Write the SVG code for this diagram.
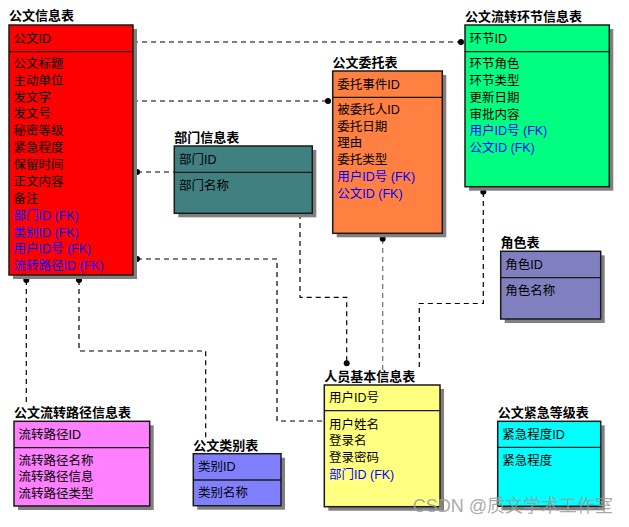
<svg xmlns="http://www.w3.org/2000/svg" width="629" height="527" viewBox="0 0 629 527">
<style>
text{font-family:"Liberation Sans","Noto Sans CJK SC",sans-serif;font-size:12.5px;fill:#000}
.t{font-weight:bold;font-size:13px}
.fk{fill:#0000ff}
.sh{fill:#808080}
.bx{stroke:#1a1a1a;stroke-width:1.5}
.dv{stroke:#1a1a1a;stroke-width:1.3}
.c{fill:none;stroke:#000;stroke-width:1.2;stroke-dasharray:5 4}
.cg{stroke:#6e6e6e}
.dot{fill:#000}
.wm{font-family:"Liberation Sans","Noto Sans CJK SC",sans-serif;font-size:18px;fill:#9a9a9a;fill-opacity:0.85}
</style>
<rect width="629" height="527" fill="#fff"/>

<g id="connectors">
<path class="c" d="M133,42 H461"/><circle class="dot" cx="461" cy="42" r="3"/>
<path class="c" d="M133,101 H328"/><circle class="dot" cx="328" cy="101" r="3"/>
<path class="c" d="M137,172 H174"/><circle class="dot" cx="137" cy="172" r="3"/>
<path class="c" d="M137,259 H277 V421 H324"/><circle class="dot" cx="137" cy="259" r="3"/>
<path class="c" d="M26.3,280 V405"/><circle class="dot" cx="26.3" cy="280" r="3"/>
<path class="c" d="M79,280 V351 H205.7 V438"/><circle class="dot" cx="79" cy="280" r="3"/>
<path class="c" d="M300,214 V297.3 H346.7 V363"/><circle class="dot" cx="346.7" cy="363.3" r="3"/>
<path class="c cg" d="M382.7,239 V370"/><circle class="dot" cx="382.7" cy="238.7" r="3"/>
<path class="c" d="M483.3,192 V303.5 H419.3 V370"/><circle class="dot" cx="483.3" cy="191.7" r="3"/>
</g>

<g id="doc">
<text class="t" x="9" y="20">公文信息表</text>
<rect class="sh" x="13" y="29" width="124" height="250"/>
<rect class="bx" x="9" y="25" width="124" height="250" fill="#ff0000"/>
<line class="dv" x1="9" y1="51.7" x2="133" y2="51.7"/>
<text x="13.5" y="42.5">公文ID</text>
<text x="13.5" y="67.8">公文标题<tspan x="13.5" dy="16.87">主动单位</tspan><tspan x="13.5" dy="16.87">发文字</tspan><tspan x="13.5" dy="16.87">发文号</tspan><tspan x="13.5" dy="16.87">秘密等级</tspan><tspan x="13.5" dy="16.87">紧急程度</tspan><tspan x="13.5" dy="16.87">保留时间</tspan><tspan x="13.5" dy="16.87">正文内容</tspan><tspan x="13.5" dy="16.87">备注</tspan><tspan class="fk" x="13.5" dy="16.87">部门ID (FK)</tspan><tspan class="fk" x="13.5" dy="16.87">类别ID (FK)</tspan><tspan class="fk" x="13.5" dy="16.87">用户ID号 (FK)</tspan><tspan class="fk" x="13.5" dy="16.87">流转路径ID (FK)</tspan></text>
</g>

<g id="flownode">
<text class="t" x="465" y="20.5">公文流转环节信息表</text>
<rect class="sh" x="469" y="29" width="144.3" height="161.7"/>
<rect class="bx" x="465" y="25" width="144.3" height="161.7" fill="#00ff80"/>
<line class="dv" x1="465" y1="51.7" x2="609.3" y2="51.7"/>
<text x="469.5" y="42.8">环节ID</text>
<text x="469.5" y="67.8">环节角色<tspan x="469.5" dy="16.9">环节类型</tspan><tspan x="469.5" dy="16.9">更新日期</tspan><tspan x="469.5" dy="16.9">审批内容</tspan><tspan class="fk" x="469.5" dy="16.9">用户ID号 (FK)</tspan><tspan class="fk" x="469.5" dy="16.9">公文ID (FK)</tspan></text>
</g>

<g id="entrust">
<text class="t" x="332.5" y="67">公文委托表</text>
<rect class="sh" x="336.7" y="75" width="109.6" height="162.3"/>
<rect class="bx" x="332.7" y="71" width="109.6" height="162.3" fill="#ff8040"/>
<line class="dv" x1="332.7" y1="97.3" x2="442.3" y2="97.3"/>
<text x="337.3" y="88.5">委托事件ID</text>
<text x="337.3" y="113.8">被委托人ID<tspan x="337.3" dy="16.8">委托日期</tspan><tspan x="337.3" dy="16.8">理由</tspan><tspan x="337.3" dy="16.8">委托类型</tspan><tspan class="fk" x="337.3" dy="16.8">用户ID号 (FK)</tspan><tspan class="fk" x="337.3" dy="16.8">公文ID (FK)</tspan></text>
</g>

<g id="dept">
<text class="t" x="174.3" y="142">部门信息表</text>
<rect class="sh" x="178.3" y="150" width="138" height="67.3"/>
<rect class="bx" x="174.3" y="146" width="138" height="67.3" fill="#408080"/>
<line class="dv" x1="174.3" y1="172.3" x2="312.3" y2="172.3"/>
<text x="179" y="163.8">部门ID</text>
<text x="179" y="189.5">部门名称</text>
</g>

<g id="role">
<text class="t" x="500.5" y="247">角色表</text>
<rect class="sh" x="504.7" y="255.3" width="100" height="67.7"/>
<rect class="bx" x="500.7" y="251.3" width="100" height="67.7" fill="#8080c0"/>
<line class="dv" x1="500.7" y1="277.7" x2="600.7" y2="277.7"/>
<text x="505.3" y="268.8">角色ID</text>
<text x="505.3" y="294.5">角色名称</text>
</g>

<g id="user">
<text class="t" x="324.3" y="381">人员基本信息表</text>
<rect class="sh" x="328.3" y="389" width="115.7" height="121.7"/>
<rect class="bx" x="324.3" y="385" width="115.7" height="121.7" fill="#ffff80"/>
<line class="dv" x1="324.3" y1="410.7" x2="440" y2="410.7"/>
<text x="329" y="402.2">用户ID号</text>
<text x="329" y="428.5">用户姓名<tspan x="329" dy="16.7">登录名</tspan><tspan x="329" dy="16.7">登录密码</tspan><tspan class="fk" x="329" dy="16.7">部门ID (FK)</tspan></text>
</g>

<g id="urgency">
<text class="t" x="497.7" y="417">公文紧急等级表</text>
<rect class="sh" x="501.7" y="425.3" width="103" height="85"/>
<rect class="bx" x="497.7" y="421.3" width="103" height="85" fill="#00ffff"/>
<line class="dv" x1="497.7" y1="447.3" x2="600.7" y2="447.3"/>
<text x="502.3" y="438.5">紧急程度ID</text>
<text x="502.3" y="464.5">紧急程度</text>
</g>

<g id="path">
<text class="t" x="14" y="417">公文流转路径信息表</text>
<rect class="sh" x="18" y="425.3" width="135.7" height="84.7"/>
<rect class="bx" x="14" y="421.3" width="135.7" height="84.7" fill="#ff80ff"/>
<line class="dv" x1="14" y1="447.7" x2="149.7" y2="447.7"/>
<text x="18.5" y="438.8">流转路径ID</text>
<text x="18.5" y="464.5">流转路径名称<tspan x="18.5" dy="16.8">流转路径信息</tspan><tspan x="18.5" dy="16.8">流转路径类型</tspan></text>
</g>

<g id="category">
<text class="t" x="193.3" y="449.5">公文类别表</text>
<rect class="sh" x="197.3" y="457.7" width="87.7" height="52"/>
<rect class="bx" x="193.3" y="453.7" width="87.7" height="52" fill="#8080ff"/>
<line class="dv" x1="193.3" y1="480" x2="281" y2="480"/>
<text x="198" y="471.2">类别ID</text>
<text x="198" y="497.2">类别名称</text>
</g>

<text class="wm" x="613" y="511.5" text-anchor="end">CSDN @质文学术工作室</text>
</svg>
